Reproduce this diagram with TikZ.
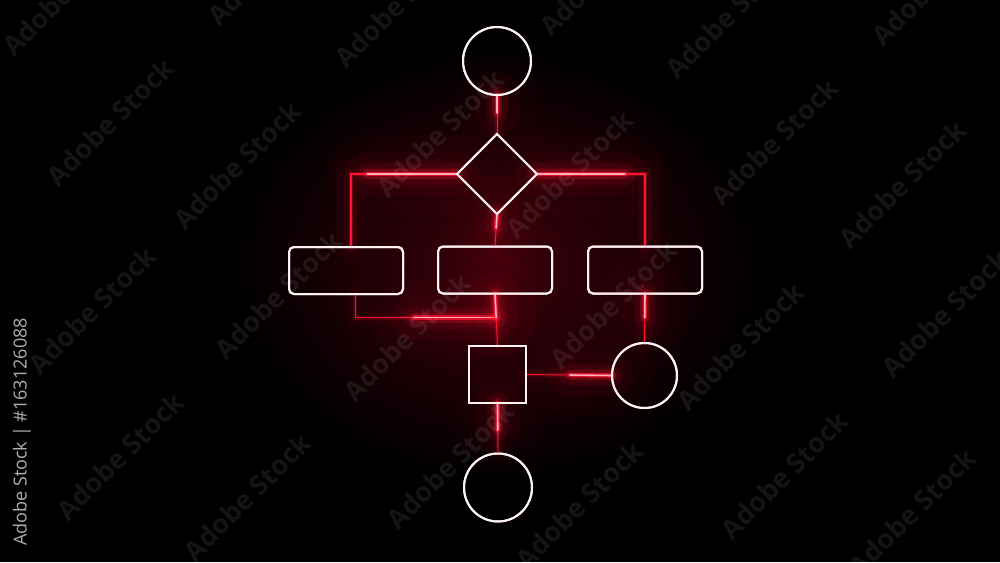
\documentclass[tikz,border=0pt]{standalone}
\usepackage{fontspec}
\setmainfont{Open Sans}
\usetikzlibrary{shapes.geometric,calc}
\definecolor{wirered}{RGB}{255,20,50}
\definecolor{corepink}{RGB}{255,175,185}
\definecolor{hazered}{RGB}{62,0,11}
\definecolor{nodewhite}{RGB}{255,242,242}
\definecolor{idgray}{RGB}{175,175,175}
\begin{document}
\begin{tikzpicture}[x=1pt,y=-1pt,line cap=round,
  shapeline/.style={draw=nodewhite, line width=2pt, inner sep=0pt, outer sep=0pt},
  termcircle/.style={shapeline, circle, minimum size=68pt},
  endcircle/.style={shapeline, circle, minimum size=65pt},
  decision/.style={shapeline, diamond, minimum width=80pt, minimum height=80pt, aspect=1},
  procbox/.style={shapeline, rectangle, rounded corners=5pt, minimum width=114pt, minimum height=47pt},
  joinbox/.style={shapeline, rectangle, minimum size=57pt},
  thinwire/.style={draw=wirered, line width=0.9pt,
    preaction={draw=wirered, line width=16pt, opacity=0.04},
    preaction={draw=wirered, line width=4pt, opacity=0.18}},
  midwire/.style={draw=wirered, line width=1.1pt,
    preaction={draw=wirered, line width=30pt, opacity=0.035},
    preaction={draw=wirered, line width=12pt, opacity=0.08},
    preaction={draw=wirered, line width=4pt, opacity=0.28}},
  brightwire/.style={draw=corepink, line width=1.6pt,
    preaction={draw=wirered, line width=80pt, opacity=0.025},
    preaction={draw=wirered, line width=44pt, opacity=0.045},
    preaction={draw=wirered, line width=22pt, opacity=0.09},
    preaction={draw=wirered, line width=10pt, opacity=0.22},
    preaction={draw=wirered, line width=4.5pt, opacity=0.65}},
  watermark/.style={text=white, opacity=0.08, rotate=45, inner sep=0pt,
    font=\fontsize{27}{27}\selectfont\bfseries}
]
\useasboundingbox (0,0) rectangle (1000,562);
\fill[black] (0,0) rectangle (1000,562);
\begin{scope}
\clip (0,0) rectangle (1000,562);
\shade[inner color=hazered, outer color=black] (497,265) ellipse [x radius=265, y radius=215];

% nodes
\node[termcircle] (top) at (497,61) {};
\node[decision] (dia) at (497,174) {};
\node[procbox] (b1) at (346,270.5) {};
\node[procbox] (b2) at (495,270) {};
\node[procbox] (b3) at (645,270) {};
\node[joinbox] (sq) at (497.5,374.5) {};
\node[endcircle] (rc) at (644.5,375.5) {};
\node[termcircle] (bot) at (498,487.5) {};

\coordinate (b1in) at ([xshift=5pt]b1.north);
\coordinate (b1out) at ([xshift=9pt]b1.south);
\coordinate (m) at ($(b2.south)!0.46!(sq.north)$);

% thin connectors
\draw[thinwire] (top.south) -- (dia.north);
\draw[thinwire] (dia.south) -- (b2.north);
\draw[midwire] (dia.east) -| (b3.north);
\draw[midwire] (dia.west) -| (b1in);
\draw[thinwire] (b1out) |- (m);
\draw[thinwire] (b2.south) -- (sq.north);
\draw[thinwire] (b3.south) -- (rc.north);
\draw[thinwire] (sq.east) -- (rc.west);
\draw[thinwire] (sq.south) -- (bot.north);

% bright glowing parts
\draw[brightwire] (top.south) -- ($(top.south)!18pt!(dia.north)$);
\draw[brightwire] (dia.west) -- ($(dia.west)!90pt!(b1in |- dia.west)$);
\draw[brightwire] (dia.east) -- ($(dia.east)!88pt!(b3.north |- dia.east)$);
\draw[brightwire] (dia.south) -- ($(dia.south)!14pt!(b2.north)$);
\draw[brightwire] (m) -- ($(m)!82pt!(b1out |- m)$);
\draw[brightwire] (b2.south) -- (m);
\draw[brightwire] (b3.south) -- ($(b3.south)!24pt!(rc.north)$);
\draw[brightwire] (rc.west) -- ($(rc.west)!42pt!(sq.east)$);
\draw[brightwire] (sq.south) -- ($(sq.south)!27pt!(bot.north)$);

% redraw node outlines on top
\node[termcircle] (topO) at (top) {};
\node[decision] (diaO) at (dia) {};
\node[procbox] (b1O) at (b1) {};
\node[procbox] (b2O) at (b2) {};
\node[procbox] (b3O) at (b3) {};
\node[joinbox] (sqO) at (sq) {};
\node[endcircle] (rcO) at (rc) {};
\node[termcircle] (botO) at (bot) {};

% watermarks
\foreach \p [count=\i] in {(66,-8),(271,-38),(398,4),(110,122),(237,165),(440,133),(603,-28),(729,15),(935,-18),(774,142),(569,174),(902,184),(92,310),(278,295),(407,337),(120,456),(247,497),(450,465),(613,304),(740,346),(945,313),(784,475),(579,505),(912,512)}
  \node[watermark] (wm\i) at \p {Adobe Stock};
\end{scope}
\node[text=idgray, rotate=90, inner sep=0pt, font=\fontsize{18}{18}\selectfont] (stockid) at (22,432) {Adobe Stock | \#163126088};
\end{tikzpicture}
\end{document}
